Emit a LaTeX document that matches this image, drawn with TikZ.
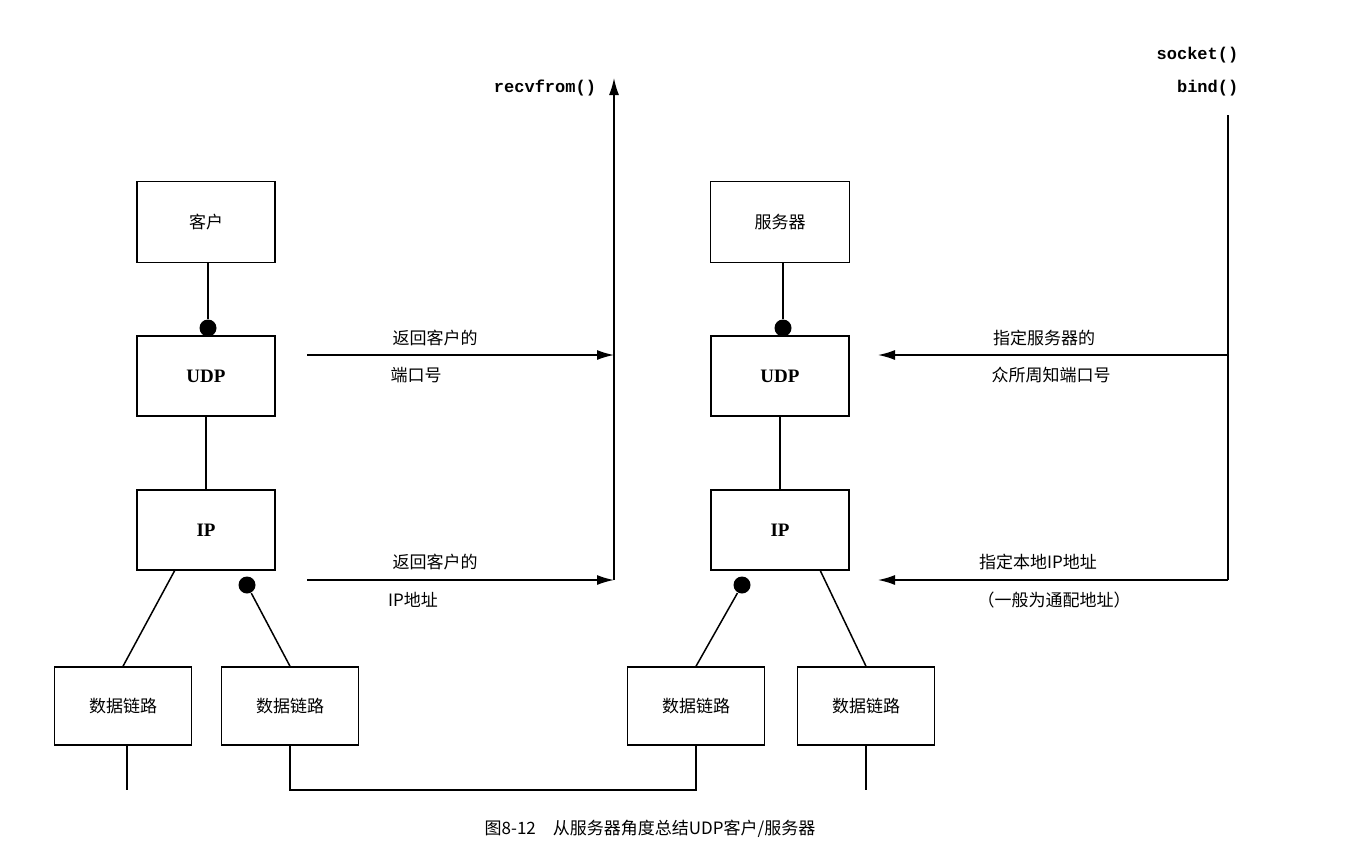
\documentclass[tikz,border=0pt]{standalone}
\usepackage{fontspec}
\setmainfont{Liberation Serif}
\newfontfamily\cjk{Noto Sans CJK SC}
\newfontfamily\code{Liberation Mono}
\usetikzlibrary{arrows.meta}
\begin{document}
\begin{tikzpicture}[x=1pt,y=-1pt,line width=1.5pt,
  box/.style={draw,line width=1.5pt,minimum width=138pt,minimum height=80pt,font=\bfseries\fontsize{19}{22}\selectfont},
  lbox/.style={draw,line width=1.5pt,minimum width=137pt,minimum height=78pt,font=\cjk\fontsize{17}{20}\selectfont},
  lbl/.style={font=\cjk\fontsize{17}{20}\selectfont,inner sep=1pt},
  fn/.style={font=\code\bfseries\fontsize{17}{20}\selectfont,inner sep=1pt},
  dot/.style={circle,fill=black,inner sep=0pt,minimum size=17pt},
  ar/.style={line width=1.5pt,-{Latex[length=17pt,width=10pt]}},
  ln/.style={line width=1.5pt}]
\useasboundingbox (0,0) rectangle (1368,855);
% client stack
\node[lbox,minimum width=138pt,minimum height=81pt] (cli) at (206,222) {客户};
\node[box] (cudp) at (206,376) {UDP};
\node[box] (cip) at (206,530) {IP};
\node[lbox] (dl1) at (123,706) {数据链路};
\node[lbox] (dl2) at (290,706) {数据链路};
\node[dot] (cd1) at (208,328) {};
\node[dot] (cd2) at (247,585) {};
% server stack
\node[lbox,minimum width=139pt,minimum height=81pt] (srv) at (780,222) {服务器};
\node[box] (sudp) at (780,376) {UDP};
\node[box] (sip) at (780,530) {IP};
\node[lbox] (dl3) at (696,706) {数据链路};
\node[lbox] (dl4) at (866,706) {数据链路};
\node[dot] (sd1) at (783,328) {};
\node[dot] (sd2) at (742,585) {};
% stack lines
\draw[ln] (cli.south -| cd1) -- (cd1);
\draw[ln] (cudp) -- (cip);
\draw[ln] (175,570) -- (dl1.north);
\draw[ln] (cd2) -- (dl2.north);
\draw[ln] (srv.south -| sd1) -- (sd1);
\draw[ln] (sudp) -- (sip);
\draw[ln] (sd2) -- (dl3.north);
\draw[ln] (820,570) -- (dl4.north);
% network
\coordinate (n1) at (127,790);
\coordinate (n4) at (866,790);
\draw[ln] (dl1.south -| n1) -- (n1);
\draw[ln] (dl2.south) -- (dl2.south |- n1) -- (dl3.south |- n1) -- (dl3.south);
\draw[ln] (dl4.south) -- (n4);
% client side arrows
\node[fn] (rf) at (545,88) {recvfrom()};
\coordinate (rb) at (614,580);
\draw[ar] (rb) -- (614,78);
\coordinate (a1) at (307,355);
\coordinate (a2) at (307,580);
\draw[ar] (a1) -- (a1 -| rb);
\draw[ar] (a2) -- (rb);
\node[lbl] (t1) at (435,338) {返回客户的};
\node[lbl] (t2) at (416,375) {端口号};
\node[lbl] (t3) at (435,562) {返回客户的};
\node[lbl] (t4) at (413,600) {IP地址};
% server side arrows
\node[fn,anchor=east] (sk) at (1240,55) {socket()};
\node[fn,anchor=east] (bd) at (1240,88) {bind()};
\coordinate (st) at (1228,115);
\coordinate (sb) at (1228,580);
\draw[ln] (st) -- (sb);
\draw[ar] (st |- a1) -- (878,355);
\draw[ar] (sb) -- (878,580);
\node[lbl] (t5) at (1044,338) {指定服务器的};
\node[lbl] (t6) at (1051,375) {众所周知端口号};
\node[lbl] (t7) at (1038,562) {指定本地IP地址};
\node[lbl] (t8) at (1054,600) {（一般为通配地址）};
% caption
\node[lbl] (cap) at (650,829) {图8-12\quad 从服务器角度总结UDP客户/服务器};
\end{tikzpicture}
\end{document}
